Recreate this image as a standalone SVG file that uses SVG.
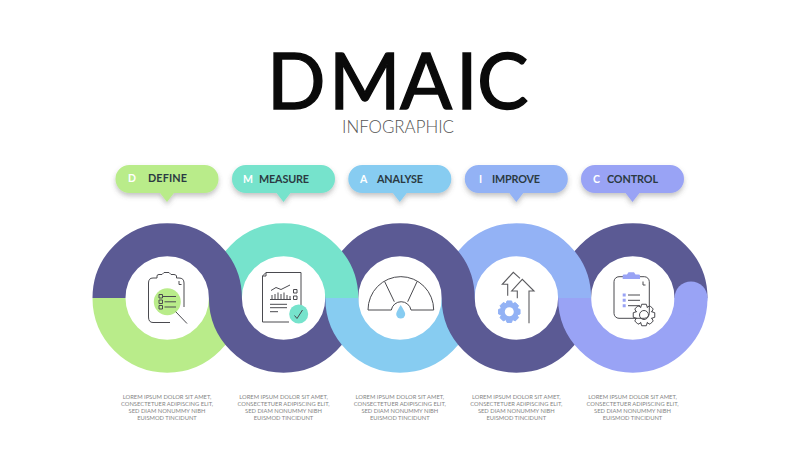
<svg xmlns="http://www.w3.org/2000/svg" width="800" height="450" viewBox="0 0 800 450">
<style>
text{font-family:"Lato","Liberation Sans",sans-serif}
.title{font-size:77px;font-weight:400;fill:#0a0a0a;stroke:#0a0a0a;stroke-width:1.4px}
.sub{font-size:17.5px;font-weight:300;fill:#555}
.lab{font-size:10.8px;font-weight:700;fill:#2b3a42}
.let{font-size:10.5px;font-weight:700;fill:#fff}
.body{font-size:5.8px;fill:#858585;text-anchor:middle}
.band{fill:none;stroke-width:33}
.ic{fill:none;stroke:#4a4a4f;stroke-width:1}
.ig{fill:none;stroke:#5c5c60;stroke-width:1.1}
</style>
<defs>
<filter id="sh" x="-20%" y="-30%" width="140%" height="170%"><feDropShadow dx="0" dy="3" stdDeviation="2.5" flood-color="#555" flood-opacity=".35"/></filter>
<path id="bub" d="M-37.5 0H37.5A14 14 0 0 1 37.5 28H7L0 37-7 28H-37.5A14 14 0 0 1-37.5 0Z"/>
<polygon id="gear" points="7.49,-3.34 10.76,-2.29 10.76,2.29 7.49,3.34 7.66,2.94 9.23,5.99 5.99,9.23 2.94,7.66 3.34,7.49 2.29,10.76 -2.29,10.76 -3.34,7.49 -2.94,7.66 -5.99,9.23 -9.23,5.99 -7.66,2.94 -7.49,3.34 -10.76,2.29 -10.76,-2.29 -7.49,-3.34 -7.66,-2.94 -9.23,-5.99 -5.99,-9.23 -2.94,-7.66 -3.34,-7.49 -2.29,-10.76 2.29,-10.76 3.34,-7.49 2.94,-7.66 5.99,-9.23 9.23,-5.99 7.66,-2.94"/>
</defs>
<rect width="800" height="450" fill="#fff"/>
<g id="title">
<text class="title" x="267 329 400 456 477" y="109">DMAIC</text>
<text class="sub" x="342" y="133" textLength="112" lengthAdjust="spacingAndGlyphs">INFOGRAPHIC</text>
</g>
<g id="connectors">
<path class="band" stroke="#5b5a94" d="M574.600 298A50 50 0 0 1 691 298"/>
<path class="band" stroke="#93b2f5" d="M458.200 298A50 50 0 0 1 574.600 298"/>
<path class="band" stroke="#5b5a94" d="M341.800 298A50 50 0 0 1 458.200 298"/>
<path class="band" stroke="#76e3cc" d="M225.400 298A50 50 0 0 1 341.800 298"/>
<path class="band" stroke="#5b5a94" d="M109 298A50 50 0 0 1 225.400 298"/>
<path class="band" stroke="#b9ec8a" d="M109 298A50 50 0 0 0 225.400 298"/>
<path class="band" stroke="#5b5a94" d="M225.400 298A50 50 0 0 0 341.800 298"/>
<path class="band" stroke="#87ccf1" d="M341.800 298A50 50 0 0 0 458.200 298"/>
<path class="band" stroke="#5b5a94" d="M458.200 298A50 50 0 0 0 574.600 298"/>
<path class="band" stroke="#99a3f5" d="M574.600 298A50 50 0 0 0 691 298"/>
<circle cx="691" cy="298" r="16.500" fill="#99a3f5"/>
</g>
<g id="node-define">
<use href="#bub" x="167" y="165" fill="#b9ec8a" filter="url(#sh)"/>
<text class="let" x="128" y="182">D</text>
<text class="lab" x="148" y="182" textLength="39">DEFINE</text>
<path class="ic" d="M184 307V283Q184 278 179 278H176.500V276Q176 274.500 174 274.500H171L169 272.500H164L162 274.500H159Q157 274.500 157 276V278H153Q148.500 278 148.500 283V317Q148.500 322.500 153 322.500H170"/>
<path class="ic" d="M179 281v3.500h2.500"/>
<circle cx="167.300" cy="301.700" r="13.500" fill="#b9ec8a"/>
<path class="ic" d="M163 296.500H176M164.500 301.800H176M164.500 307H176M175.700 311.700L187 323.500"/>
<path class="ic" d="M159 294.500h3.500v3.500h-3.500zM159 300h3.500v3.500h-3.500zM159 305.500h3.500v3.500h-3.500z"/>
<text class="body" x="167" y="399">LOREM IPSUM DOLOR SIT AMET,</text>
<text class="body" x="167" y="406">CONSECTETUER ADIPISCING ELIT,</text>
<text class="body" x="167" y="413">SED DIAM NONUMMY NIBH</text>
<text class="body" x="167" y="420">EUISMOD TINCIDUNT</text>
</g>
<g id="node-measure">
<use href="#bub" x="283.500" y="165" fill="#76e3cc" filter="url(#sh)"/>
<text class="let" x="243" y="183">M</text>
<text class="lab" x="259" y="183" textLength="50">MEASURE</text>
<path class="ic" d="M301 306V272.500H266L262.500 276V322H289"/>
<path class="ic" d="M266 272.500V276H262.500"/>
<path class="ic" d="M271 290.500L276 287.500L281 289.500L290 285"/>
<path class="ic" d="M270 299.500H291M272 299.500V295M275 299.500V294M278 299.500V292.500M281 299.500V294M284 299.500V292.500M287 299.500V295M290 299.500V296"/>
<path class="ic" d="M293.500 289.500h3.500v3.500h-3.500zM293.500 296h3.500v3.500h-3.500z"/>
<path class="ic" d="M270 304.300H287M270 307.700H287M270 311.700H278"/>
<circle cx="298.700" cy="314" r="9.500" fill="#76e3cc"/>
<path class="ic" d="M294.500 315.500L297 318.500L302.500 310"/>
<text class="body" x="283.500" y="399">LOREM IPSUM DOLOR SIT AMET,</text>
<text class="body" x="283.500" y="406">CONSECTETUER ADIPISCING ELIT,</text>
<text class="body" x="283.500" y="413">SED DIAM NONUMMY NIBH</text>
<text class="body" x="283.500" y="420">EUISMOD TINCIDUNT</text>
</g>
<g id="node-analyse">
<use href="#bub" x="399.800" y="165" fill="#87ccf1" filter="url(#sh)"/>
<text class="let" x="360" y="183">A</text>
<text class="lab" x="377" y="183" textLength="46">ANALYSE</text>
<path class="ic" d="M368 310A32.800 33.300 0 0 1 433.700 310H411A10 10 0 0 0 391.300 310ZM384.700 281.700L394.300 301.700M417 281.700L407.700 301.700"/>
<path d="M400.700 305Q405.200 312 405.200 314A4.500 4.500 0 0 1 396.200 314Q396.200 312 400.700 305Z" fill="#87ccf1"/>
<text class="body" x="399.800" y="399">LOREM IPSUM DOLOR SIT AMET,</text>
<text class="body" x="399.800" y="406">CONSECTETUER ADIPISCING ELIT,</text>
<text class="body" x="399.800" y="413">SED DIAM NONUMMY NIBH</text>
<text class="body" x="399.800" y="420">EUISMOD TINCIDUNT</text>
</g>
<g id="node-improve">
<use href="#bub" x="516.300" y="165" fill="#93b2f5" filter="url(#sh)"/>
<text class="let" x="479" y="183">I</text>
<text class="lab" x="492" y="183" textLength="48">IMPROVE</text>
<path class="ig" d="M507.700 295.700V284.300H502.300L513.300 272.300L520 278.300"/>
<path class="ig" d="M517.300 298.300V291H511.700L522.300 279.300L534 291H529V323.300"/>
<use href="#gear" transform="translate(509.300 311.700)" fill="#93b2f5" stroke="#93b2f5" stroke-width="1"/>
<circle cx="509.300" cy="311.700" r="8" fill="#93b2f5"/>
<circle cx="509.300" cy="311.700" r="4.500" fill="#fff"/>
<text class="body" x="516.300" y="399">LOREM IPSUM DOLOR SIT AMET,</text>
<text class="body" x="516.300" y="406">CONSECTETUER ADIPISCING ELIT,</text>
<text class="body" x="516.300" y="413">SED DIAM NONUMMY NIBH</text>
<text class="body" x="516.300" y="420">EUISMOD TINCIDUNT</text>
</g>
<g id="node-control">
<use href="#bub" x="632.500" y="165" fill="#99a3f5" filter="url(#sh)"/>
<text class="let" x="593" y="183">C</text>
<text class="lab" x="607" y="183" textLength="51">CONTROL</text>
<rect class="ic" x="614" y="276.700" width="35.300" height="41.600" rx="5"/>
<path d="M622.700 279V275.500Q622.700 274.500 624 274.500H627L628.500 272.300H634L635.500 274.500H638.500Q640 274.500 640 275.500V279Z" fill="#99a3f5"/>
<path class="ic" d="M643 281.500v3.500h2.500"/>
<path d="M622.700 293.500h3v3h-3zM622.700 298.800h3v3h-3zM622.700 304.200h3v3h-3z" fill="#99a3f5"/>
<path class="ic" d="M628 295H640M628 300.300H640M628 305.700H640"/>
<use href="#gear" transform="translate(644 315)" fill="#fff" class="ic"/>
<circle class="ic" cx="644" cy="315" r="4.500"/>
<text class="body" x="632.500" y="399">LOREM IPSUM DOLOR SIT AMET,</text>
<text class="body" x="632.500" y="406">CONSECTETUER ADIPISCING ELIT,</text>
<text class="body" x="632.500" y="413">SED DIAM NONUMMY NIBH</text>
<text class="body" x="632.500" y="420">EUISMOD TINCIDUNT</text>
</g>
</svg>
